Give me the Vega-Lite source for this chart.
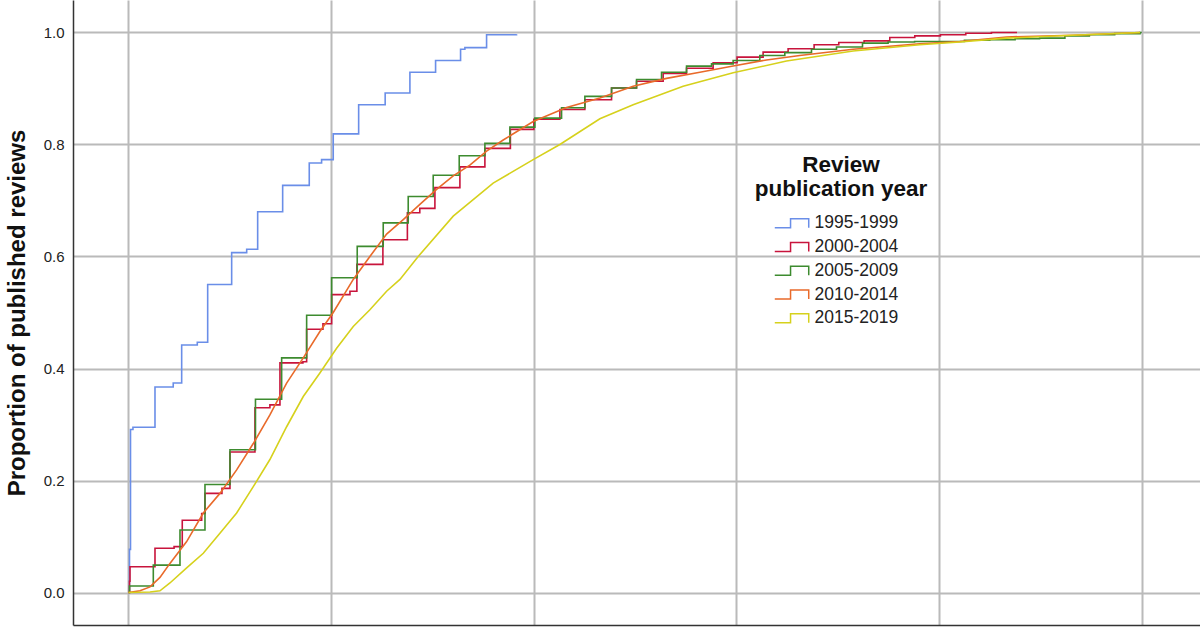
{
  "$schema": "https://vega.github.io/schema/vega-lite/v6.json",
  "width": 1127,
  "height": 625,
  "autosize": {"type": "none"},
  "padding": {"left": 73, "top": 0, "right": 0, "bottom": 5},
  "background": "white",
  "datasets": {
    "steps": [
      {"group": "1995-1999", "month": 0, "prop": 0},
      {"group": "1995-1999", "month": 0.12, "prop": 0.077},
      {"group": "1995-1999", "month": 0.24, "prop": 0.291},
      {"group": "1995-1999", "month": 0.53, "prop": 0.295},
      {"group": "1995-1999", "month": 3.14, "prop": 0.367},
      {"group": "1995-1999", "month": 5.3, "prop": 0.374},
      {"group": "1995-1999", "month": 6.3, "prop": 0.442},
      {"group": "1995-1999", "month": 8.15, "prop": 0.447},
      {"group": "1995-1999", "month": 9.38, "prop": 0.55},
      {"group": "1995-1999", "month": 12.22, "prop": 0.607},
      {"group": "1995-1999", "month": 14.0, "prop": 0.613},
      {"group": "1995-1999", "month": 15.3, "prop": 0.68},
      {"group": "1995-1999", "month": 18.26, "prop": 0.727},
      {"group": "1995-1999", "month": 21.41, "prop": 0.767},
      {"group": "1995-1999", "month": 22.87, "prop": 0.773},
      {"group": "1995-1999", "month": 24.25, "prop": 0.819},
      {"group": "1995-1999", "month": 27.26, "prop": 0.871},
      {"group": "1995-1999", "month": 30.4, "prop": 0.892},
      {"group": "1995-1999", "month": 33.33, "prop": 0.929},
      {"group": "1995-1999", "month": 36.37, "prop": 0.95},
      {"group": "1995-1999", "month": 39.33, "prop": 0.97},
      {"group": "1995-1999", "month": 39.84, "prop": 0.973},
      {"group": "1995-1999", "month": 42.41, "prop": 0.996},
      {"group": "1995-1999", "month": 45.96, "prop": 0.997},

      {"group": "2000-2004", "month": 0, "prop": 0},
      {"group": "2000-2004", "month": 0.12, "prop": 0.02},
      {"group": "2000-2004", "month": 0.18, "prop": 0.046},
      {"group": "2000-2004", "month": 3.14, "prop": 0.079},
      {"group": "2000-2004", "month": 5.4, "prop": 0.082},
      {"group": "2000-2004", "month": 6.37, "prop": 0.129},
      {"group": "2000-2004", "month": 8.67, "prop": 0.141},
      {"group": "2000-2004", "month": 9.06, "prop": 0.177},
      {"group": "2000-2004", "month": 11.07, "prop": 0.186},
      {"group": "2000-2004", "month": 12.02, "prop": 0.251},
      {"group": "2000-2004", "month": 14.98, "prop": 0.33},
      {"group": "2000-2004", "month": 16.75, "prop": 0.335},
      {"group": "2000-2004", "month": 17.94, "prop": 0.41},
      {"group": "2000-2004", "month": 20.66, "prop": 0.412},
      {"group": "2000-2004", "month": 21.1, "prop": 0.47},
      {"group": "2000-2004", "month": 23.03, "prop": 0.48},
      {"group": "2000-2004", "month": 24.06, "prop": 0.532},
      {"group": "2000-2004", "month": 26.23, "prop": 0.538},
      {"group": "2000-2004", "month": 27.05, "prop": 0.586},
      {"group": "2000-2004", "month": 30.13, "prop": 0.63},
      {"group": "2000-2004", "month": 33.03, "prop": 0.678},
      {"group": "2000-2004", "month": 34.5, "prop": 0.686},
      {"group": "2000-2004", "month": 36.29, "prop": 0.723},
      {"group": "2000-2004", "month": 39.25, "prop": 0.76},
      {"group": "2000-2004", "month": 42.21, "prop": 0.793},
      {"group": "2000-2004", "month": 45.23, "prop": 0.827},
      {"group": "2000-2004", "month": 48.01, "prop": 0.845},
      {"group": "2000-2004", "month": 51.09, "prop": 0.8625},
      {"group": "2000-2004", "month": 54.05, "prop": 0.88},
      {"group": "2000-2004", "month": 57.21, "prop": 0.901},
      {"group": "2000-2004", "month": 60.17, "prop": 0.913},
      {"group": "2000-2004", "month": 63.32, "prop": 0.927},
      {"group": "2000-2004", "month": 66.09, "prop": 0.936},
      {"group": "2000-2004", "month": 69.24, "prop": 0.946},
      {"group": "2000-2004", "month": 72.08, "prop": 0.956},
      {"group": "2000-2004", "month": 75.16, "prop": 0.965},
      {"group": "2000-2004", "month": 78.12, "prop": 0.971},
      {"group": "2000-2004", "month": 81.2, "prop": 0.978},
      {"group": "2000-2004", "month": 84.12, "prop": 0.982},
      {"group": "2000-2004", "month": 87.12, "prop": 0.985},
      {"group": "2000-2004", "month": 90.16, "prop": 0.991},
      {"group": "2000-2004", "month": 93.12, "prop": 0.994},
      {"group": "2000-2004", "month": 96.16, "prop": 0.996},
      {"group": "2000-2004", "month": 99.16, "prop": 0.9986},
      {"group": "2000-2004", "month": 102.2, "prop": 1.0},
      {"group": "2000-2004", "month": 105.23, "prop": 1.0},

      {"group": "2005-2009", "month": 0, "prop": 0},
      {"group": "2005-2009", "month": 0.12, "prop": 0.0116},
      {"group": "2005-2009", "month": 2.94, "prop": 0.049},
      {"group": "2005-2009", "month": 6.1, "prop": 0.1116},
      {"group": "2005-2009", "month": 9.06, "prop": 0.193},
      {"group": "2005-2009", "month": 12.02, "prop": 0.255},
      {"group": "2005-2009", "month": 15.04, "prop": 0.345},
      {"group": "2005-2009", "month": 18.14, "prop": 0.419},
      {"group": "2005-2009", "month": 21.1, "prop": 0.495},
      {"group": "2005-2009", "month": 24.06, "prop": 0.562},
      {"group": "2005-2009", "month": 27.09, "prop": 0.618},
      {"group": "2005-2009", "month": 30.17, "prop": 0.66},
      {"group": "2005-2009", "month": 33.13, "prop": 0.707},
      {"group": "2005-2009", "month": 36.09, "prop": 0.745},
      {"group": "2005-2009", "month": 39.17, "prop": 0.78},
      {"group": "2005-2009", "month": 42.21, "prop": 0.802},
      {"group": "2005-2009", "month": 45.17, "prop": 0.831},
      {"group": "2005-2009", "month": 48.13, "prop": 0.847},
      {"group": "2005-2009", "month": 51.29, "prop": 0.8655},
      {"group": "2005-2009", "month": 54.05, "prop": 0.886},
      {"group": "2005-2009", "month": 57.21, "prop": 0.901},
      {"group": "2005-2009", "month": 60.17, "prop": 0.916},
      {"group": "2005-2009", "month": 63.13, "prop": 0.929},
      {"group": "2005-2009", "month": 66.09, "prop": 0.94},
      {"group": "2005-2009", "month": 69.05, "prop": 0.944},
      {"group": "2005-2009", "month": 71.61, "prop": 0.95},
      {"group": "2005-2009", "month": 74.77, "prop": 0.959},
      {"group": "2005-2009", "month": 77.73, "prop": 0.964},
      {"group": "2005-2009", "month": 80.89, "prop": 0.97},
      {"group": "2005-2009", "month": 83.85, "prop": 0.974},
      {"group": "2005-2009", "month": 86.93, "prop": 0.981},
      {"group": "2005-2009", "month": 89.96, "prop": 0.983},
      {"group": "2005-2009", "month": 93.1, "prop": 0.984},
      {"group": "2005-2009", "month": 99.0, "prop": 0.986},
      {"group": "2005-2009", "month": 102.0, "prop": 0.987},
      {"group": "2005-2009", "month": 105.0, "prop": 0.989},
      {"group": "2005-2009", "month": 107.9, "prop": 0.99},
      {"group": "2005-2009", "month": 110.9, "prop": 0.994},
      {"group": "2005-2009", "month": 113.8, "prop": 0.996},
      {"group": "2005-2009", "month": 116.8, "prop": 0.998},
      {"group": "2005-2009", "month": 119.8, "prop": 1.0},
      {"group": "2005-2009", "month": 120.0, "prop": 1.0}
    ],
    "smooth": [
      {"group": "2010-2014", "month": 0, "prop": 0},
      {"group": "2010-2014", "month": 1.36, "prop": 0.003},
      {"group": "2010-2014", "month": 2.55, "prop": 0.01},
      {"group": "2010-2014", "month": 3.73, "prop": 0.027},
      {"group": "2010-2014", "month": 4.91, "prop": 0.052},
      {"group": "2010-2014", "month": 6.89, "prop": 0.091},
      {"group": "2010-2014", "month": 8.86, "prop": 0.142},
      {"group": "2010-2014", "month": 10.83, "prop": 0.177},
      {"group": "2010-2014", "month": 12.81, "prop": 0.219},
      {"group": "2010-2014", "month": 14.78, "prop": 0.266},
      {"group": "2010-2014", "month": 16.75, "prop": 0.317},
      {"group": "2010-2014", "month": 18.73, "prop": 0.374},
      {"group": "2010-2014", "month": 20.7, "prop": 0.419},
      {"group": "2010-2014", "month": 22.67, "prop": 0.466},
      {"group": "2010-2014", "month": 24.25, "prop": 0.5},
      {"group": "2010-2014", "month": 26.62, "prop": 0.559},
      {"group": "2010-2014", "month": 28.59, "prop": 0.6},
      {"group": "2010-2014", "month": 30.57, "prop": 0.64},
      {"group": "2010-2014", "month": 32.54, "prop": 0.666},
      {"group": "2010-2014", "month": 34.51, "prop": 0.693},
      {"group": "2010-2014", "month": 36.49, "prop": 0.72},
      {"group": "2010-2014", "month": 38.46, "prop": 0.744},
      {"group": "2010-2014", "month": 40.43, "prop": 0.763},
      {"group": "2010-2014", "month": 42.41, "prop": 0.788},
      {"group": "2010-2014", "month": 44.38, "prop": 0.808},
      {"group": "2010-2014", "month": 47.93, "prop": 0.841},
      {"group": "2010-2014", "month": 51.88, "prop": 0.866},
      {"group": "2010-2014", "month": 55.83, "prop": 0.883},
      {"group": "2010-2014", "month": 59.77, "prop": 0.904},
      {"group": "2010-2014", "month": 63.72, "prop": 0.918},
      {"group": "2010-2014", "month": 67.67, "prop": 0.929},
      {"group": "2010-2014", "month": 71.61, "prop": 0.94},
      {"group": "2010-2014", "month": 75.56, "prop": 0.951},
      {"group": "2010-2014", "month": 79.5, "prop": 0.959},
      {"group": "2010-2014", "month": 85.82, "prop": 0.97},
      {"group": "2010-2014", "month": 93.71, "prop": 0.98},
      {"group": "2010-2014", "month": 98.45, "prop": 0.984},
      {"group": "2010-2014", "month": 103.98, "prop": 0.992},
      {"group": "2010-2014", "month": 111.83, "prop": 0.995},
      {"group": "2010-2014", "month": 119.8, "prop": 1.0},

      {"group": "2015-2019", "month": 0, "prop": 0},
      {"group": "2015-2019", "month": 2.55, "prop": 0.001},
      {"group": "2015-2019", "month": 3.73, "prop": 0.003},
      {"group": "2015-2019", "month": 4.91, "prop": 0.017},
      {"group": "2015-2019", "month": 6.89, "prop": 0.044},
      {"group": "2015-2019", "month": 8.86, "prop": 0.07},
      {"group": "2015-2019", "month": 10.83, "prop": 0.106},
      {"group": "2015-2019", "month": 12.81, "prop": 0.142},
      {"group": "2015-2019", "month": 14.78, "prop": 0.189},
      {"group": "2015-2019", "month": 16.75, "prop": 0.2375},
      {"group": "2015-2019", "month": 18.73, "prop": 0.296},
      {"group": "2015-2019", "month": 20.7, "prop": 0.35},
      {"group": "2015-2019", "month": 22.67, "prop": 0.392},
      {"group": "2015-2019", "month": 24.65, "prop": 0.436},
      {"group": "2015-2019", "month": 26.62, "prop": 0.475},
      {"group": "2015-2019", "month": 28.59, "prop": 0.505},
      {"group": "2015-2019", "month": 30.57, "prop": 0.538},
      {"group": "2015-2019", "month": 32.15, "prop": 0.559},
      {"group": "2015-2019", "month": 34.31, "prop": 0.6},
      {"group": "2015-2019", "month": 38.46, "prop": 0.672},
      {"group": "2015-2019", "month": 43.19, "prop": 0.731},
      {"group": "2015-2019", "month": 47.93, "prop": 0.773},
      {"group": "2015-2019", "month": 51.09, "prop": 0.8},
      {"group": "2015-2019", "month": 55.83, "prop": 0.846},
      {"group": "2015-2019", "month": 59.77, "prop": 0.871},
      {"group": "2015-2019", "month": 65.69, "prop": 0.904},
      {"group": "2015-2019", "month": 71.61, "prop": 0.928},
      {"group": "2015-2019", "month": 77.93, "prop": 0.949},
      {"group": "2015-2019", "month": 85.82, "prop": 0.967},
      {"group": "2015-2019", "month": 93.71, "prop": 0.978},
      {"group": "2015-2019", "month": 98.45, "prop": 0.983},
      {"group": "2015-2019", "month": 103.98, "prop": 0.99},
      {"group": "2015-2019", "month": 111.83, "prop": 0.995},
      {"group": "2015-2019", "month": 119.8, "prop": 1.0}
    ]
  },
  "layer": [
    {
      "data": {"name": "steps"},
      "mark": {"type": "line", "interpolate": "step-after", "strokeWidth": 1.6, "clip": true},
      "encoding": {
        "x": {"field": "month", "type": "quantitative"},
        "y": {"field": "prop", "type": "quantitative"},
        "color": {"field": "group", "type": "nominal"}
      }
    },
    {
      "data": {"name": "smooth"},
      "mark": {"type": "line", "strokeWidth": 1.6, "clip": true},
      "encoding": {
        "x": {"field": "month", "type": "quantitative"},
        "y": {"field": "prop", "type": "quantitative"},
        "color": {"field": "group", "type": "nominal"}
      }
    }
  ],
  "encoding": {
    "x": {
      "field": "month",
      "type": "quantitative",
      "scale": {"domain": [-6.57, 126.9], "nice": false, "zero": false},
      "axis": {
        "title": null,
        "labels": false,
        "ticks": false,
        "values": [0, 24, 48, 72, 96, 120],
        "domainColor": "#333333",
        "domainWidth": 1.5
      }
    },
    "y": {
      "field": "prop",
      "type": "quantitative",
      "scale": {"domain": [-0.058, 1.058], "nice": false, "zero": false},
      "axis": {
        "title": "Proportion of published reviews",
        "values": [0, 0.2, 0.4, 0.6, 0.8, 1.0],
        "format": ".1f",
        "ticks": false,
        "labelPadding": 9,
        "labelFontSize": 15,
        "labelColor": "#222222",
        "titleFontSize": 24,
        "titleFontWeight": "bold",
        "titleColor": "#111111",
        "titlePadding": 14,
        "domainColor": "#333333",
        "domainWidth": 1.5
      }
    },
    "color": {
      "field": "group",
      "type": "nominal",
      "scale": {
        "domain": ["1995-1999", "2000-2004", "2005-2009", "2010-2014", "2015-2019"],
        "range": ["#6a8ee8", "#c8143c", "#3d8b2f", "#e96a2a", "#d6d11c"]
      },
      "legend": {
        "title": ["Review", "publication year"],
        "orient": "none",
        "legendX": 682,
        "legendY": 154,
        "titleFontSize": 22.5,
        "titleFontWeight": "bold",
        "titleColor": "#111111",
        "titleLineHeight": 23.5,
        "titleAlign": "center",
        "titleAnchor": "middle",
        "titlePadding": 14.5,
        "labelFontSize": 17.5,
        "labelColor": "#222222",
        "labelOffset": 14,
        "symbolType": "M-2.83,0.76H-0.2V-0.76H2.83V0.76",
        "symbolSize": 144,
        "symbolStrokeWidth": 1.5,
        "symbolFillColor": "transparent",
        "rowPadding": 4.75,
        "padding": 0
      }
    }
  },
  "config": {
    "font": "Liberation Sans",
    "view": {"stroke": null},
    "axis": {
      "grid": true,
      "gridColor": "#bababa",
      "gridWidth": 2,
      "gridOpacity": 1
    }
  }
}
